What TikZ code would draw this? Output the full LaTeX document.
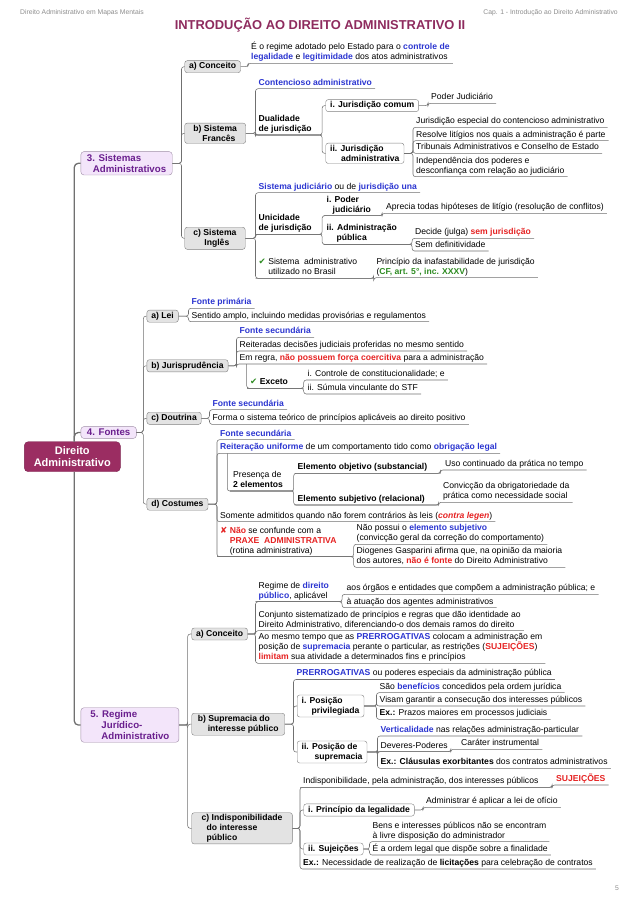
\documentclass[tikz,border=0pt]{standalone}
\usepackage{fontspec}
\setmainfont{Liberation Sans}
\newfontfamily\symfont{DejaVu Sans}
\usetikzlibrary{positioning}

\definecolor{linegray}{HTML}{707070}
\definecolor{hdrgray}{HTML}{8C8C8C}
\definecolor{titlecol}{HTML}{8E2B5E}
\definecolor{rootfill}{HTML}{9B2D62}
\definecolor{rootline}{HTML}{7D2350}
\definecolor{topicfill}{HTML}{F3E5FA}
\definecolor{topicline}{HTML}{9E8CA6}
\definecolor{topictext}{HTML}{6A1F8E}
\definecolor{boxfill}{HTML}{E3E3E3}
\definecolor{boxline}{HTML}{808080}
\definecolor{mmblue}{HTML}{2B35D0}
\definecolor{mmred}{HTML}{E52222}
\definecolor{mmgreen}{HTML}{2E8B22}

\newcommand{\leaffont}{\fontsize{8.6}{10}\selectfont}
\newcommand{\azul}[1]{\textbf{\textcolor{mmblue}{#1}}}
\newcommand{\verm}[1]{\textbf{\textcolor{mmred}{#1}}}
\newcommand{\verde}[1]{\textbf{\textcolor{mmgreen}{#1}}}
\newcommand{\ck}{{\symfont\textcolor{mmgreen}{✔}}}
\newcommand{\xk}{{\symfont\textcolor{mmred}{✘}}}
% first line of a text, stretched so that its underline reaches the next branch
\newcommand{\wide}[2]{\makebox[#1][l]{#2}}

\tikzset{
    %Define connector styles
    link/.style={draw=linegray, line width=.55pt, rounded corners=2.5pt},
    trunk/.style={draw=linegray, line width=1.3pt, rounded corners=4pt},
    %Define style for the central topic
    central/.style={
           rectangle,
           rounded corners=4pt,
           draw=rootline, fill=rootfill,
           text=white,
           font=\fontsize{11}{12.7}\selectfont\bfseries,
           align=center,
           minimum width=96pt,
           minimum height=30pt},
    %Define style for main topics
    topic/.style={
           rectangle,
           rounded corners=3pt,
           draw=topicline, fill=topicfill,
           text=topictext,
           font=\fontsize{9.7}{11.2}\selectfont\bfseries,
           align=left, anchor=west,
           inner xsep=6pt, inner ysep=2.5pt},
    %Define style for subtopics
    subtopic/.style={
           rectangle,
           rounded corners=2.5pt,
           draw=boxline, fill=boxfill,
           font=\fontsize{8.6}{10}\selectfont\bfseries,
           align=left, anchor=west,
           inner xsep=4.5pt, inner ysep=2pt},
    framed/.style={subtopic, fill=white},
    %Define style for underlined texts
    leaf/.style={
           anchor=south west,
           font=\leaffont,
           align=left,
           inner xsep=3pt, inner ysep=1.3pt,
           text depth=2.2pt},
    hdr/.style={font=\fontsize{6.8}{8}\selectfont, text=hdrgray, inner sep=0pt}
}

\begin{document}
\begin{tikzpicture}[x=1pt,y=-1pt]
\useasboundingbox (0,0) rectangle (638,903);

% header
\node[hdr, anchor=base west] (hl) at (20,14) {Direito Administrativo em Mapas Mentais};
\node[hdr, anchor=base east] (hr) at (618,14) {Cap. 1 - Introdução ao Direito Administrativo};
\node[anchor=base, font=\fontsize{12.9}{14}\selectfont\bfseries, text=titlecol] (title) at (320,29.5) {INTRODUÇÃO AO DIREITO ADMINISTRATIVO II};
\node[hdr, anchor=base] (pg) at (617,890) {5};

% topics
\node[central] (root) at (72.3,456.7) {Direito\\Administrativo};
\node[topic] (sis) at (80.7,163.3) {3. Sistemas\\\hspace*{6pt}Administrativos};
\node[topic] (fon) at (80.7,432.5) {4. Fontes};
\node[topic, minimum width=98pt] (reg) at (80.7,725) {5. Regime\\\hspace*{11pt}Jurídico-\\\hspace*{11pt}Administrativo};

% 3. Sistemas Administrativos
\node[subtopic] (conc) at (184.5,66.7) {a) Conceito};
\node[subtopic, minimum width=61pt] (fran) at (184.5,133.3) {b)\ Sistema\\\hspace*{9pt}Francês};
\node[subtopic, minimum width=60.5pt] (ingl) at (184.5,238.3) {c) Sistema\\\hspace*{11pt}Inglês};

\node[leaf] (regime) at (248,63.3) {É o regime adotado pelo Estado para o \azul{controle de}\\\azul{legalidade} e \azul{legitimidade} dos atos administrativos};
\node[leaf] (contenc) at (255.5,88.7) {\azul{Contencioso administrativo}};
\node[leaf, font=\leaffont\bfseries] (dual) at (255.5,135) {\wide{60.2pt}{Dualidade}\\de jurisdição};
\node[framed] (jcom) at (325.5,105.6) {i. Jurisdição comum};
\node[framed] (jadm) at (325.5,153.3) {ii. Jurisdição\\\hspace*{11pt}administrativa};
\node[leaf] (pjud) at (428,103.3) {Poder Judiciário};
\node[leaf] (jesp) at (413,127.3) {Jurisdição especial do contencioso administrativo};
\node[leaf] (resol) at (413,140.7) {Resolve litígios nos quais a administração é parte};
\node[leaf] (trib) at (413,153.3) {Tribunais Administrativos e Conselho de Estado};
\node[leaf] (indep) at (413,176.7) {Independência dos poderes e\\desconfiança com relação ao judiciário};

\node[leaf] (sjud) at (255.5,192.7) {\azul{Sistema judiciário} ou de \azul{jurisdição una}};
\node[leaf, font=\leaffont\bfseries] (unic) at (255.5,234.3) {\wide{60.2pt}{Unicidade}\\de jurisdição};
\node[leaf, font=\leaffont\bfseries] (pjd) at (323.5,215.7) {\wide{52.2pt}{i. Poder}\\\hspace*{6pt}judiciário};
\node[leaf, font=\leaffont\bfseries] (apub) at (323.5,244.3) {\wide{82.2pt}{ii. Administração}\\\hspace*{10pt}pública};
\node[leaf] (apre) at (383,213.3) {Aprecia todas hipóteses de litígio (resolução de conflitos)};
\node[leaf] (decide) at (412,238.3) {Decide (julga) \verm{sem jurisdição}};
\node[leaf] (sdef) at (412,251) {Sem definitividade};
\node[leaf] (sbra) at (255.5,278.3) {\wide{111.8pt}{\ck\ Sistema\ \ administrativo}\\\phantom{\ck\ }utilizado no Brasil};
\node[leaf] (inafa) at (373.3,277.7) {Princípio da inafastabilidade de jurisdição\\(\verde{CF, art. 5°, inc. XXXV})};

% 4. Fontes
\node[subtopic] (lei) at (146.7,316.2) {a) Lei};
\node[subtopic] (jur) at (146.7,365.8) {b) Jurisprudência};
\node[subtopic] (dou) at (146.7,418.3) {c) Doutrina};
\node[subtopic] (cos) at (146.7,504.2) {d) Costumes};

\node[leaf] (fprim) at (188.5,308.3) {\azul{Fonte primária}};
\node[leaf] (samp) at (188.5,321.7) {Sentido amplo, incluindo medidas provisórias e regulamentos};
\node[leaf] (fsec1) at (236.5,337.3) {\azul{Fonte secundária}};
\node[leaf] (reit) at (236.5,351) {Reiteradas decisões judiciais proferidas no mesmo sentido};
\node[leaf] (regra) at (236.5,364) {Em regra, \verm{não possuem força coercitiva} para a administração};
\node[leaf] (exceto) at (247,388.3) {\wide{50.3pt}{\ck\ \textbf{Exceto}}};
\node[leaf] (ccons) at (304.5,380) {i. Controle de constitucionalidade; e};
\node[leaf] (sumula) at (304.5,394) {ii. Súmula vinculante do STF};
\node[leaf] (fsec2) at (209.5,409.7) {\azul{Fonte secundária}};
\node[leaf] (forma) at (209.5,424.3) {Forma o sistema teórico de princípios aplicáveis ao direito positivo};
\node[leaf] (fsec3) at (217,439.7) {\azul{Fonte secundária}};
\node[leaf] (reitu) at (217,453.3) {\azul{Reiteração uniforme} de um comportamento tido como \azul{obrigação legal}};
\node[leaf] (presenca) at (230,491) {\wide{57.3pt}{Presença de}\\\textbf{2 elementos}};
\node[leaf, font=\leaffont\bfseries] (eobj) at (294.5,473.3) {\wide{139.5pt}{Elemento objetivo (substancial)}};
\node[leaf, font=\leaffont\bfseries] (esub) at (294.5,505) {\wide{137.8pt}{Elemento subjetivo (relacional)}};
\node[leaf] (uso) at (442,470) {Uso continuado da prática no tempo};
\node[leaf] (conv) at (440,502.3) {Convicção da obrigatoriedade da\\prática como necessidade social};
\node[leaf] (somente) at (217,521.7) {Somente admitidos quando não forem contrários às leis (\verm{\itshape contra legen})};
\node[leaf] (praxe) at (217,556.7) {\wide{130.3pt}{\xk\ \verm{Não} se confunde com a}\\\phantom{\xk\ }\verm{PRAXE\ \ ADMINISTRATIVA}\\\phantom{\xk\ }(rotina administrativa)};
\node[leaf] (npos) at (353.5,544.3) {Não possui o \azul{elemento subjetivo}\\(convicção geral da correção do comportamento)};
\node[leaf] (gasp) at (353.5,567.3) {Diogenes Gasparini afirma que, na opinião da maioria\\dos autores, \verm{não é fonte} do Direito Administrativo};

% 5. Regime Juridico-Administrativo
\node[subtopic] (con2) at (191.5,634) {a) Conceito};
\node[subtopic, minimum width=93pt] (sup) at (191.5,724.2) {b) Supremacia do\\\hspace*{10pt}interesse público};
\node[subtopic, minimum width=100.7pt, font=\fontsize{8.6}{9.6}\selectfont\bfseries] (ind) at (191.5,828.3) {c) Indisponibilidade\\\hspace*{5pt}do interesse\\\hspace*{5pt}público};

\node[leaf] (rdp) at (255.5,601.7) {\wide{80.2pt}{Regime de \azul{direito}}\\\azul{público}, aplicável};
\node[leaf] (orgaos) at (343.5,594.3) {aos órgãos e entidades que compõem a administração pública; e};
\node[leaf] (atua) at (343.5,607.7) {à atuação dos agentes administrativos};
\node[leaf] (conj) at (255.5,630.7) {Conjunto sistematizado de princípios e regras que dão identidade ao\\Direito Administrativo, diferenciando-o dos demais ramos do direito};
\node[leaf] (mesmo) at (255.5,663.3) {Ao mesmo tempo que as \azul{PRERROGATIVAS} colocam a administração em\\posição de \azul{supremacia} perante o particular, as restrições (\verm{SUJEIÇÕES})\\\verm{limitam} sua atividade a determinados fins e princípios};

\node[leaf] (prerr) at (293.5,679.5) {\azul{PRERROGATIVAS} ou poderes especiais da administração pública};
\node[framed] (ppri) at (297,706) {i. Posição\\\hspace*{10pt}privilegiada};
\node[framed] (psup) at (297,752) {ii. Posição de\\\hspace*{13pt}supremacia};
\node[leaf] (benef) at (376.5,692.7) {São \azul{benefícios} concedidos pela ordem jurídica};
\node[leaf] (visam) at (376.5,706) {Visam garantir a consecução dos interesses públicos};
\node[leaf] (prazo) at (376.5,719.3) {\textbf{Ex.:} Prazos maiores em processos judiciais};
\node[leaf] (vert) at (377.5,736) {\azul{Verticalidade} nas relações administração-particular};
\node[leaf] (dever) at (377.5,751.7) {Deveres-Poderes};
\node[leaf] (carat) at (458,749.3) {Caráter instrumental};
\node[leaf] (clau) at (377.5,768.3) {\textbf{Ex.: Cláusulas exorbitantes} dos contratos administrativos};

\node[leaf] (indisp) at (300,787.3) {\wide{245.7pt}{Indisponibilidade, pela administração, dos interesses públicos}};
\node[leaf] (sujei) at (553,785) {\verm{SUJEIÇÕES}};
\node[framed] (legal) at (303.5,810) {i. Princípio da legalidade};
\node[leaf] (admof) at (423,807.3) {Administrar é aplicar a lei de ofício};
\node[framed] (sujb) at (303.5,849) {ii. Sujeições};
\node[leaf] (bens) at (369.5,841.7) {Bens e interesses públicos não se encontram\\à livre disposição do administrador};
\node[leaf] (ordem) at (369.5,855) {É a ordem legal que dispõe sobre a finalidade};
\node[leaf] (licit) at (300,869) {\textbf{Ex.:} Necessidade de realização de \textbf{licitações} para celebração de contratos};

% trunk
\draw[trunk] ([xshift=2pt]root.north) |- (sis.west);
\draw[trunk] ([xshift=2pt]root.north) |- (fon.west);
\draw[trunk] ([xshift=2pt]root.south) |- (reg.west);

% topics to subtopics
\foreach \c in {conc,fran,ingl}
    \draw[link] (sis.east) -| ([xshift=-3pt]\c.west) -- (\c.west);
\foreach \c in {lei,jur,dou,cos}
    \draw[link] (fon.east) -| ([xshift=-3.4pt]\c.west) -- (\c.west);
\foreach \c in {con2,sup,ind}
    \draw[link] (reg.east) -| ([xshift=-3.8pt]\c.west) -- (\c.west);

% subtopics to texts
\foreach \p/\c in {conc/regime, fran/contenc, fran/dual, ingl/sjud, ingl/unic, ingl/sbra,
                   jcom/pjud, jadm/jesp, jadm/resol, jadm/trib, jadm/indep,
                   lei/fprim, lei/samp, jur/fsec1, jur/reit, jur/regra,
                   dou/fsec2, dou/forma, cos/fsec3, cos/reitu, cos/somente, cos/praxe,
                   con2/rdp, con2/conj, con2/mesmo, sup/prerr,
                   ppri/benef, ppri/visam, ppri/prazo, psup/vert, psup/dever, psup/clau,
                   ind/indisp, ind/licit, legal/admof, sujb/bens, sujb/ordem}
    \draw[link] (\p.east) -| (\c.south west) -- (\c.south east);
\foreach \p/\c in {sup/ppri, sup/psup, ind/legal, ind/sujb}
    \draw[link] (\p.east) -| ([xshift=-3.5pt]\c.west) -- (\c.west);

% texts to texts
\foreach \p/\c in {dual/jcom, dual/jadm}
    \draw[link] (\p.south west) -- (\p.south east) |- (\c.west);
\foreach \p/\c in {unic/pjd, unic/apub, pjd/apre, apub/decide, apub/sdef, sbra/inafa,
                   exceto/ccons, exceto/sumula, presenca/eobj, presenca/esub,
                   eobj/uso, esub/conv, praxe/npos, praxe/gasp,
                   rdp/orgaos, rdp/atua, dever/carat, indisp/sujei}
    \draw[link] (\p.south west) -- (\p.south east) |- (\c.south east);
\draw[link] ([xshift=10.2pt]regra.south west) |- (exceto.south east);
\draw[link] ([xshift=10.3pt]reitu.south west) |- (presenca.south east);

\end{tikzpicture}
\end{document}
